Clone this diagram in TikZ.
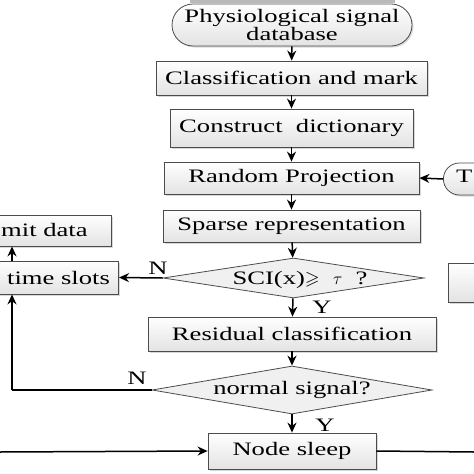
\documentclass[tikz,border=0pt]{standalone}
\usepackage{amssymb}
\usepackage{fontspec}
\setmainfont[FakeStretch=1.4]{Liberation Serif}
\usetikzlibrary{arrows.meta,shapes.geometric,shadows}
\begin{document}
\begin{tikzpicture}[x=1pt,y=-1pt,
  box/.style={draw=black!70,line width=0.8pt,top color=white,bottom color=gray!22,
    drop shadow={shadow xshift=1.5pt,shadow yshift=-1.5pt,fill=gray!60},
    inner sep=0pt,font=\fontsize{19}{16}\selectfont},
  dia/.style={draw=black!70,line width=0.8pt,fill=gray!12,inner sep=0pt,
    font=\fontsize{19}{17}\selectfont},
  arr/.style={line width=1.5pt,-{Stealth[length=10pt,width=9pt]}},
  ln/.style={line width=1.5pt},
  lab/.style={font=\fontsize{19}{17}\selectfont,inner sep=0pt}]
\useasboundingbox (0,0) rectangle (474,474);
\fill[gray!55] (190,0) rectangle (395,3);
% nodes
\node[box,rounded corners=21pt,minimum width=240pt,minimum height=42pt,align=center] (db) at (292,25) {Physiological signal\\database};
\node[box,minimum width=271pt,minimum height=34pt] (cm) at (291.5,78) {Classification and mark};
\node[box,minimum width=243pt,minimum height=38pt] (cd) at (291.5,128) {Construct\ \ dictionary};
\node[box,minimum width=255pt,minimum height=32pt] (rp) at (291.5,178) {Random Projection};
\node[box,minimum width=257pt,minimum height=32pt] (sr) at (291.5,226) {Sparse representation};
\node[dia,diamond,aspect=6.5,minimum width=261pt,minimum height=40pt] (d1) at (293.5,278) {};
\node[lab] at (300,280) {SCI(x)$\geqslant$\ \ $\tau$\ \ ?};
\node[box,minimum width=288pt,minimum height=34pt] (rc) at (292,334) {Residual classification};
\node[dia,diamond,aspect=5.8,minimum width=280pt,minimum height=48pt] (d2) at (292,390) {};
\node[lab] at (292,390) {normal signal?};
\node[box,minimum width=168pt,minimum height=36pt] (ns) at (292,451) {Node sleep};
\node[box,minimum width=130pt,minimum height=33pt,anchor=east] (ts) at (119,277.5) {};
\node[lab,anchor=west] at (7,278) {time slots};
\node[box,minimum width=125pt,minimum height=31pt,anchor=east] (td) at (112,230.5) {};
\node[lab,anchor=west] at (1,230) {mit data};
\node[box,rounded corners=16pt,minimum width=80pt,minimum height=32pt,anchor=west] (tr) at (443,179) {};
\node[lab,anchor=west] at (456,176) {T};
\node[box,minimum width=40pt,minimum height=39pt,anchor=west] (rb) at (448,282.5) {};
\coordinate (l0) at (0,452);
\coordinate (r0) at (474,452);
\coordinate (lc) at (12,390);
% connectors
\draw[arr] (db) -- (cm);
\draw[arr] (cm) -- (cd);
\draw[arr] (cd) -- (rp);
\draw[arr] (rp) -- (sr);
\draw[arr] (sr) -- (d1);
\draw[arr] (d1) -- (rc);
\draw[arr] (rc) -- (d2);
\draw[arr] (d2) -- (ns);
\draw[arr] (tr.west) -- (rp.east);
\draw[arr] (d1.west) -- (ts.east);
\draw[arr] (ts.north -| lc) -- (td.south -| lc);
\draw[ln] (d2.west) -- (lc);
\draw[arr] (lc) -- (ts.south -| lc);
\draw[arr] (l0) -- (ns.west);
\draw[ln] (ns.east) -- (r0);
% labels
\node[lab] at (158,268) {N};
\node[lab] at (322,307) {Y};
\node[lab] at (137,378) {N};
\node[lab] at (325,425) {Y};
\end{tikzpicture}
\end{document}
